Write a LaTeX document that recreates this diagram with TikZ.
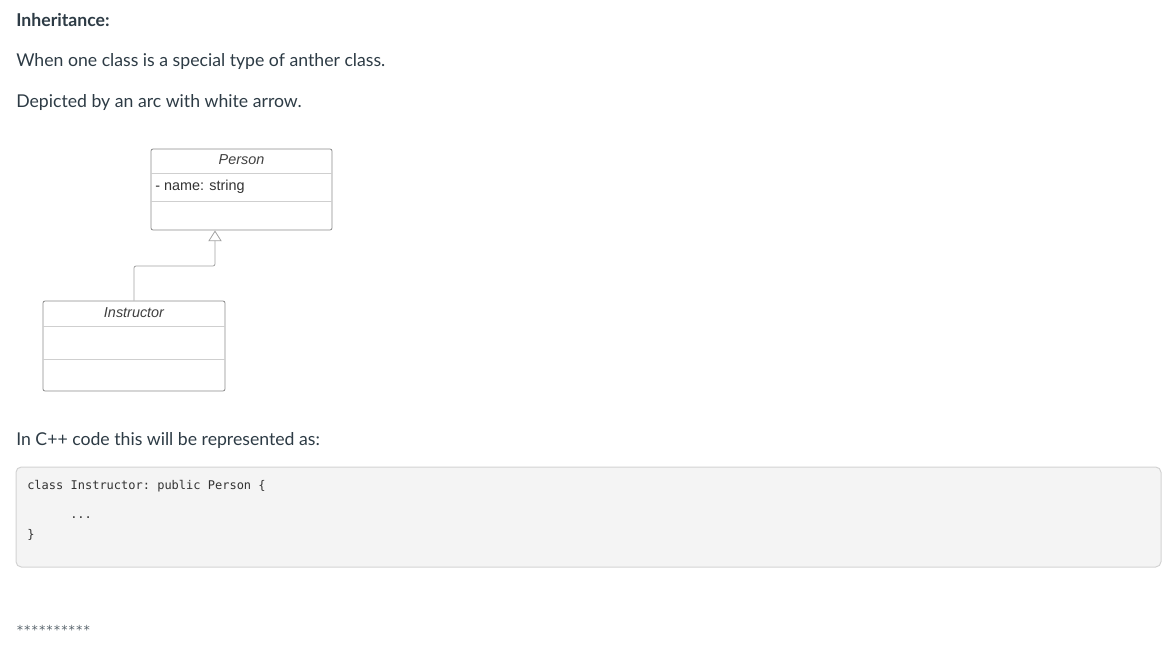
\documentclass[tikz,border=0pt]{standalone}
\usepackage{fontspec}
\setmainfont{Lato}
\setmonofont{DejaVu Sans Mono}
\newfontfamily\umlfont{Liberation Sans}
\usetikzlibrary{arrows.meta}

\definecolor{bodytext}{HTML}{2D3B45}
\definecolor{umledge}{HTML}{8A8A8A}
\definecolor{umlsep}{HTML}{CFCFCF}
\definecolor{codebg}{HTML}{F4F4F4}
\definecolor{codeedge}{HTML}{D3D3D3}
\definecolor{codetext}{HTML}{333333}

\tikzset{
  para/.style={anchor=west,inner sep=0pt,text=bodytext,font=\fontsize{13.25}{15}\selectfont},
  classbox/.style={draw=umledge,line width=0.6pt,rounded corners=1.5pt,fill=white,inner sep=0pt},
  classname/.style={inner sep=0pt,text=black!75,font=\umlfont\itshape\fontsize{10.8}{12}\selectfont},
  member/.style={anchor=west,inner sep=0pt,text=black!80,font=\umlfont\fontsize{10.8}{12}\selectfont},
  sepline/.style={draw=umlsep,line width=0.6pt},
  inherit/.style={draw=umledge!80,line width=0.6pt,rounded corners=1.5pt,-{Triangle[open,length=8pt,width=10pt]}},
  codeline/.style={anchor=west,inner sep=0pt,text=codetext,font=\ttfamily\fontsize{9}{11}\selectfont}
}

\begin{document}
\begin{tikzpicture}[x=0.75pt,y=-0.75pt]
\useasboundingbox (0,0) rectangle (1170,647);

% heading and text
\node[para,font=\bfseries\fontsize{13.25}{15}\selectfont] (title) at (16,20.5) {Inheritance:};
\node[para] (intro) at (16,61.5) {When one class is a special type of anther class.};
\node[para] (arcnote) at (16,102.5) {Depicted by an arc with white arrow.};

% class Person
\node[classbox,minimum width=135.75pt,minimum height=60.75pt] (person) at (241.5,189.5) {};
\draw[sepline] (person.west |- 0,173) -- (person.east |- 0,173);
\draw[sepline] (person.west |- 0,201) -- (person.east |- 0,201);
\node[classname] (personname) at (241.5,160) {Person};
\node[member] (personattr) at (155,186.5) {- name: string};

% class Instructor
\node[classbox,minimum width=136.5pt,minimum height=67.5pt] (instructor) at (134,346) {};
\draw[sepline] (instructor.west |- 0,326) -- (instructor.east |- 0,326);
\draw[sepline] (instructor.west |- 0,359) -- (instructor.east |- 0,359);
\node[classname] (instrname) at (134,312.5) {Instructor};

% generalisation arc
\coordinate (tip) at (215,230.5);
\draw[inherit] (instructor.north) |- (tip |- 0,266) -- (tip);

\node[para] (cppnote) at (16,440.5) {In C++ code this will be represented as:};

% code block
\node[draw=codeedge,fill=codebg,line width=0.75pt,rounded corners=4pt,inner sep=0pt,
      minimum width=858.75pt,minimum height=75pt] (codebox) at (588.5,517) {};
\node[codeline] (code1) at (27,486.5) {class Instructor: public Person \{};
\node[codeline] (code2) at (70,518) {...};
\node[codeline] (code3) at (27,535) {\}};

\node[anchor=west,inner sep=0pt,text=bodytext!80,font=\ttfamily\fontsize{9.25}{11}\selectfont] (stars) at (16,629.5) {**********};
\end{tikzpicture}
\end{document}
